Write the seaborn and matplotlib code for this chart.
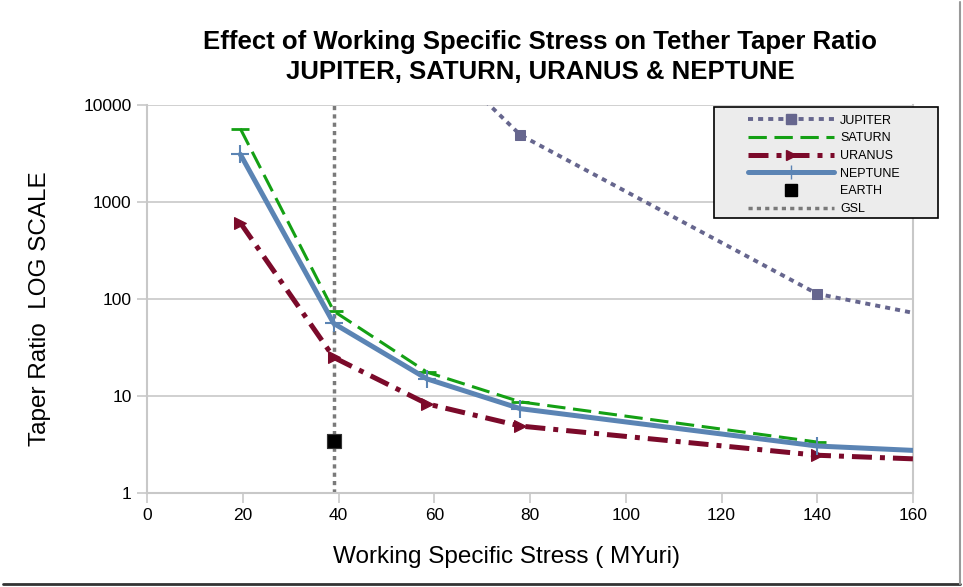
import matplotlib
matplotlib.use("Agg")
import matplotlib.pyplot as plt
import seaborn as sns
import numpy as np
import pandas as pd
from matplotlib.lines import Line2D
from matplotlib.patches import Rectangle

sns.set_theme(style="white")
plt.rcParams['font.family'] = ['Liberation Sans', 'DejaVu Sans']
plt.rcParams['text.color'] = 'black'

# ---- data ----
jupiter_x = [58.5, 78, 140, 160]
jupiter_y = [42000, 4900, 113, 72]
saturn_x = [19.5, 39, 58.5, 78, 140]
saturn_y = [5700, 75, 17.6, 8.7, 3.35]
uranus_x = [19.5, 39, 58.5, 78, 140, 160]
uranus_y = [610, 25, 8.3, 4.9, 2.45, 2.25]
neptune_x = [19.5, 39, 58.5, 78, 140, 160]
neptune_y = [3100, 56, 15, 7.4, 3.05, 2.75]
earth_x = [39]
earth_y = [3.44]
gsl_x = 39

xticks = [0, 20, 40, 60, 80, 100, 120, 140, 160]
yticks = [1, 10, 100, 1000, 10000]
ytick_labels = ["1", "10", "100", "1000", "10000"]

# ---- figure ----
fig = plt.figure(figsize=(9.63, 5.87), dpi=100)
ax = fig.add_axes([147/963, 1-493/587, (913-147)/963, (493-105)/587])

c_jup = "#66668e"
c_sat = "#14a014"
c_ura = "#7b0a2a"
c_nep = "#5b84b4"
c_gsl = "#7a7a7a"

jup_ls = (0, (1.3, 1.3))
gsl_ls = (0, (1.2, 1.2))

ax.axvline(gsl_x, color=c_gsl, lw=2.5, ls=gsl_ls, zorder=2)

sns.lineplot(x=jupiter_x, y=jupiter_y, ax=ax, color=c_jup, lw=2.8,
             linestyle=jup_ls, marker="s", markersize=7,
             markeredgecolor=c_jup, markevery=[0, 1, 2], zorder=3)
sns.lineplot(x=saturn_x, y=saturn_y, ax=ax, color=c_sat, lw=2.2,
             linestyle=(0, (6, 2.5)), marker="_", markersize=13,
             markeredgewidth=2, markeredgecolor=c_sat, zorder=4)
sns.lineplot(x=uranus_x, y=uranus_y, ax=ax, color=c_ura, lw=3.6,
             linestyle=(0, (4, 1.6, 1, 1.6)), marker=">", markersize=9,
             markeredgecolor=c_ura, markevery=[0, 1, 2, 3, 4], zorder=3)
sns.lineplot(x=neptune_x, y=neptune_y, ax=ax, color=c_nep, lw=3.6,
             linestyle="-", marker="+", markersize=13, markeredgewidth=1.5,
             markeredgecolor=c_nep, markevery=[0, 1, 2, 3, 4], zorder=5)
sns.scatterplot(x=earth_x, y=earth_y, ax=ax, color="black", marker="s",
                s=110, edgecolor="#333333", zorder=6)

ax.set_yscale("log")
ax.set_xlim(0, 160)
ax.set_ylim(1, 10000)
ax.set_xticks(xticks)
ax.set_yticks(yticks)
ax.set_yticklabels(ytick_labels)
ax.yaxis.set_minor_locator(matplotlib.ticker.NullLocator())
ax.tick_params(axis="both", labelsize=12.5, colors="#c8c8c8",
               labelcolor="black", length=7, width=1.2, direction="out",
               bottom=True, left=True, pad=4)
ax.grid(axis="y", color="#c8c8c8", lw=1.2)
ax.grid(axis="x", visible=False)
for s in ["left", "bottom", "right"]:
    ax.spines[s].set_color("#c8c8c8")
    ax.spines[s].set_linewidth(1.5)
ax.spines["top"].set_visible(False)

ax.set_xlabel("")
ax.set_ylabel("")
fig.text(506/963, 1-557/587, "Working Specific Stress ( MYuri)", fontsize=17.5,
         ha="center", va="center")
fig.text(40/963, 1-309/587, "Taper Ratio  LOG SCALE", fontsize=17.5,
         ha="center", va="center", rotation=90)

fig.text(540/963, 1-42/587, "Effect of Working Specific Stress on Tether Taper Ratio",
         ha="center", va="center", fontsize=18.5, fontweight="bold")
fig.text(540/963, 1-72/587, "JUPITER, SATURN, URANUS & NEPTUNE",
         ha="center", va="center", fontsize=18.5, fontweight="bold")

# legend background box
fig.patches.append(Rectangle((714/963, 1-218/587), (938-714)/963, (218-107)/587,
                             transform=fig.transFigure, facecolor="#ececec",
                             edgecolor="black", lw=1.2, zorder=10))
handles = [
    Line2D([], [], color=c_jup, lw=2.8, ls=jup_ls, marker="s", markersize=7),
    Line2D([], [], color=c_sat, lw=2.2, ls=(0, (6, 2.5))),
    Line2D([], [], color=c_ura, lw=3.6, ls=(0, (4, 1.6, 1, 1.6)), marker=">", markersize=7),
    Line2D([], [], color=c_nep, lw=3.6, ls="-", marker="+", markersize=10),
    Line2D([], [], color="black", lw=0, marker="s", markersize=8),
    Line2D([], [], color=c_gsl, lw=2.5, ls=gsl_ls),
]
labels = ["JUPITER", "SATURN", "URANUS", "NEPTUNE", "EARTH", "GSL"]
leg = fig.legend(handles, labels, loc="upper left",
                 bbox_to_anchor=(739/963, 1-106/587), frameon=False,
                 fontsize=9, handlelength=6.9, handletextpad=0.5,
                 labelspacing=0.45, borderpad=0.2)
leg.set_zorder(11)

# figure border (shadow lines)
fig.add_artist(Line2D([0.003, 0.997], [1-584/587, 1-584/587], transform=fig.transFigure,
                      color="#333333", lw=2))
fig.add_artist(Line2D([960/963, 960/963], [1-584/587, 1-2/587], transform=fig.transFigure,
                      color="#999999", lw=1.5))

fig.savefig("out.png", dpi=100)
